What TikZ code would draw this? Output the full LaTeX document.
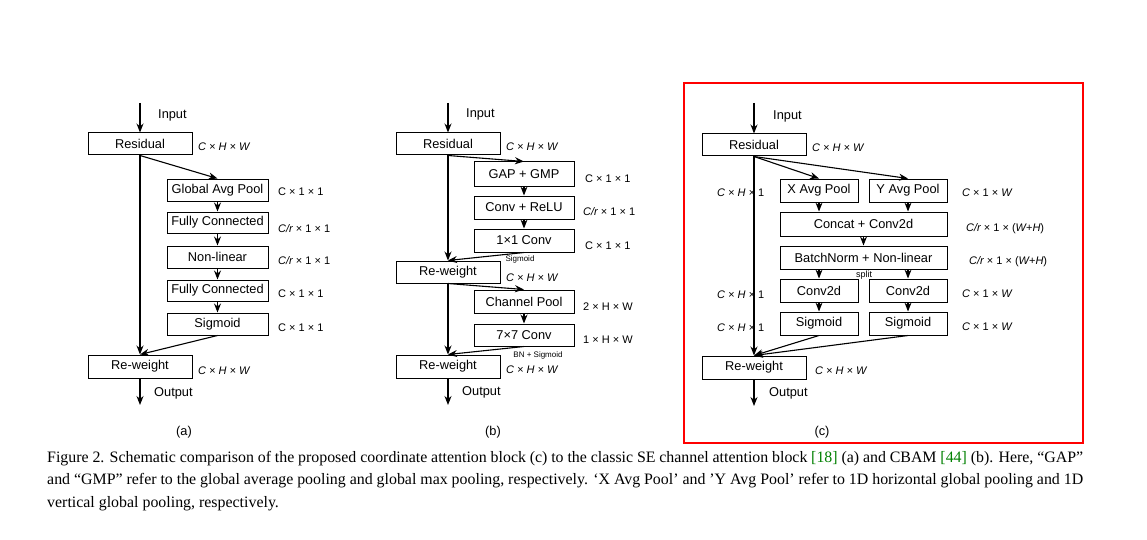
\documentclass[tikz,border=0pt]{standalone}
\usepackage{fontspec}
\setmainfont{Liberation Serif}
\newfontfamily\arial{Liberation Sans}
\usetikzlibrary{arrows.meta}
\begin{document}
\begin{tikzpicture}[x=1pt,y=-1pt,
  bx/.style={draw,line width=1pt,inner sep=0pt,font=\arial\fontsize{12.8}{13}\selectfont},
  ar/.style={line width=1.1pt,-{Stealth[length=9pt,width=7pt]}},
  dim/.style={font=\arial\itshape\fontsize{11}{12}\selectfont,anchor=west,inner sep=0pt},
  lb/.style={font=\arial\fontsize{12.8}{13}\selectfont,anchor=west,inner sep=0pt},
  sm/.style={font=\arial\fontsize{8}{9}\selectfont,inner sep=0pt}]
\useasboundingbox (0,0) rectangle (1147,540);
\newcommand\bxn[6]{\node[bx,minimum width=#4-#3,minimum height=#6-#5] (#1) at ({(#3+#4)/2},{(#5+#6)/2}) {#2};}
% (a)
\coordinate (ain) at (140,103); \coordinate (aout) at (140,405);
\bxn{ares}{Residual}{88}{192}{133}{155}
\bxn{a1}{Global Avg Pool}{167}{268}{179}{201}
\bxn{a2}{Fully Connected}{167}{268}{212}{233}
\bxn{a3}{Non-linear}{167}{268}{246}{268}
\bxn{a4}{Fully Connected}{167}{268}{280}{301}
\bxn{a5}{Sigmoid}{167}{268}{313}{335}
\bxn{arw}{Re-weight}{88}{192}{355}{378}
\draw[ar] (ain)--(ares); \draw[ar] (arw)--(aout); \draw[ar] (ares)--(arw);
\draw[ar] (ares.south)--(a1.north); \draw[ar] (a1)--(a2); \draw[ar] (a2)--(a3); \draw[ar] (a3)--(a4); \draw[ar] (a4)--(a5);
\draw[ar] (a5.south)--(arw.north);
\node[lb] (ainl) at (158,115) {Input}; \node[lb] (aoutl) at (154,393) {Output};
\node[dim] (ad0) at (198,147) {C × H × W};
\node[dim] (ad1) at (278,192) {\upshape C × 1 × 1};
\node[dim] (ad2) at (278,229) {C/r\upshape\ × 1 × 1};
\node[dim] (ad3) at (278,261) {C/r\upshape\ × 1 × 1};
\node[dim] (ad4) at (278,294) {\upshape C × 1 × 1};
\node[dim] (ad5) at (278,328) {\upshape C × 1 × 1};
\node[dim] (ad6) at (198,371) {C × H × W};
\node[lb,anchor=center] (acap) at (184,432) {(a)};
% (b)
\coordinate (bin) at (448,103); \coordinate (bout) at (448,405);
\bxn{bres}{Residual}{396}{500}{133}{155}
\bxn{b1}{GAP + GMP}{474}{574}{162}{186}
\bxn{b2}{Conv + ReLU}{474}{574}{196}{219}
\bxn{b3}{1×1 Conv}{474}{574}{229}{252}
\bxn{brw}{Re-weight}{396}{500}{261}{283}
\bxn{b4}{Channel Pool}{474}{574}{290}{313}
\bxn{b5}{7×7 Conv}{474}{574}{324}{346}
\bxn{brw2}{Re-weight}{396}{500}{355}{378}
\draw[ar] (bin)--(bres); \draw[ar] (brw2)--(bout);
\draw[ar] (bres)--(brw); \draw[ar] (brw)--(brw2);
\draw[ar] (bres.south)--(b1.north); \draw[ar] (b1)--(b2); \draw[ar] (b2)--(b3);
\draw[ar] (b3.south)--(brw.north);
\draw[ar] (brw.south)--(b4.north); \draw[ar] (b4)--(b5);
\draw[ar] (b5.south)--(brw2.north);
\node[lb] (binl) at (466,114) {Input}; \node[lb] (boutl) at (462,392) {Output};
\node[dim] (bd0) at (506,147) {C × H × W};
\node[dim] (bd1) at (585,179) {\upshape C × 1 × 1};
\node[dim] (bd2) at (583,212) {C/r\upshape\ × 1 × 1};
\node[dim] (bd3) at (585,246) {\upshape C × 1 × 1};
\node[dim] (bd4) at (506,278) {C × H × W};
\node[dim] (bd5) at (583,307) {\upshape 2 × H × W};
\node[dim] (bd6) at (583,340) {\upshape 1 × H × W};
\node[dim] (bd7) at (506,370) {C × H × W};
\node[sm] (bs1) at (520,259) {Sigmoid};
\node[sm] (bs2) at (538,355) {BN + Sigmoid};
\node[lb,anchor=center] (bcap) at (493,432) {(b)};
% (c)
\node[draw=red,line width=1.3pt,minimum width=399,minimum height=360,inner sep=0pt] (frame) at (883.5,263) {};
\coordinate (cin) at (754,103); \coordinate (cout) at (754,406);
\bxn{cres}{Residual}{702}{806}{134}{156}
\bxn{cx}{X Avg Pool}{780}{858}{179}{202}
\bxn{cy}{Y Avg Pool}{869}{947}{179}{202}
\bxn{cc}{Concat + Conv2d}{780}{947}{212}{236}
\bxn{cb}{BatchNorm + Non-linear}{780}{947}{246}{269}
\bxn{ck1}{Conv2d}{780}{858}{279}{302}
\bxn{ck2}{Conv2d}{869}{947}{279}{302}
\bxn{cs1}{Sigmoid}{780}{858}{312}{335}
\bxn{cs2}{Sigmoid}{869}{947}{312}{335}
\bxn{crw}{Re-weight}{702}{806}{356}{379}
\draw[ar] (cin)--(cres); \draw[ar] (crw)--(cout); \draw[ar] (cres)--(crw);
\draw[ar] (cres.south)--(cx.north); \draw[ar] (cres.south)--(cy.north);
\draw[ar] (cx)--(cx|-cc.north); \draw[ar] (cy)--(cy|-cc.north);
\draw[ar] (cc)--(cb);
\draw[ar] (cx|-cb.south)--(ck1); \draw[ar] (cy|-cb.south)--(ck2);
\draw[ar] (ck1)--(cs1); \draw[ar] (ck2)--(cs2);
\draw[ar] (cs1.south)--(crw.north); \draw[ar] (cs2.south)--(crw.north);
\node[lb] (cinl) at (773,116) {Input}; \node[lb] (coutl) at (769,393) {Output};
\node[dim] (cd0) at (812,148) {C × H × W};
\node[dim] (cd1) at (717,193) {C × H × \upshape 1};
\node[dim] (cd2) at (717,295) {C × H × \upshape 1};
\node[dim] (cd3) at (717,328) {C × H × \upshape 1};
\node[dim] (cd4) at (962,193) {C\upshape\ × 1 × \itshape W};
\node[dim] (cd5) at (966,229) {C/r\upshape\ × 1 × (\itshape W\upshape +\itshape H\upshape )};
\node[dim] (cd6) at (969,262) {C/r\upshape\ × 1 × (\itshape W\upshape +\itshape H\upshape )};
\node[dim] (cd7) at (962,294) {C\upshape\ × 1 × \itshape W};
\node[dim] (cd8) at (962,327) {C\upshape\ × 1 × \itshape W};
\node[dim] (cd9) at (815,371) {C × H × W};
\node[sm,font=\arial\fontsize{9}{10}\selectfont] (csp) at (864,275) {split};
\node[lb,anchor=center] (ccap) at (822,432) {(c)};
% caption
\node[anchor=north west,inner sep=0pt,text width=1036,align=justify,font=\fontsize{15.9}{22.5}\selectfont] (cap) at (47,451) {Figure 2. Schematic comparison of the proposed coordinate attention block (c) to the classic SE channel attention block \textcolor{green!50!black}{[18]} (a) and CBAM \textcolor{green!50!black}{[44]} (b). Here, “GAP” and “GMP” refer to the global average pooling and global max pooling, respectively. ‘X Avg Pool’ and ’Y Avg Pool’ refer to 1D horizontal global pooling and 1D vertical global pooling, respectively.};
\end{tikzpicture}
\end{document}
